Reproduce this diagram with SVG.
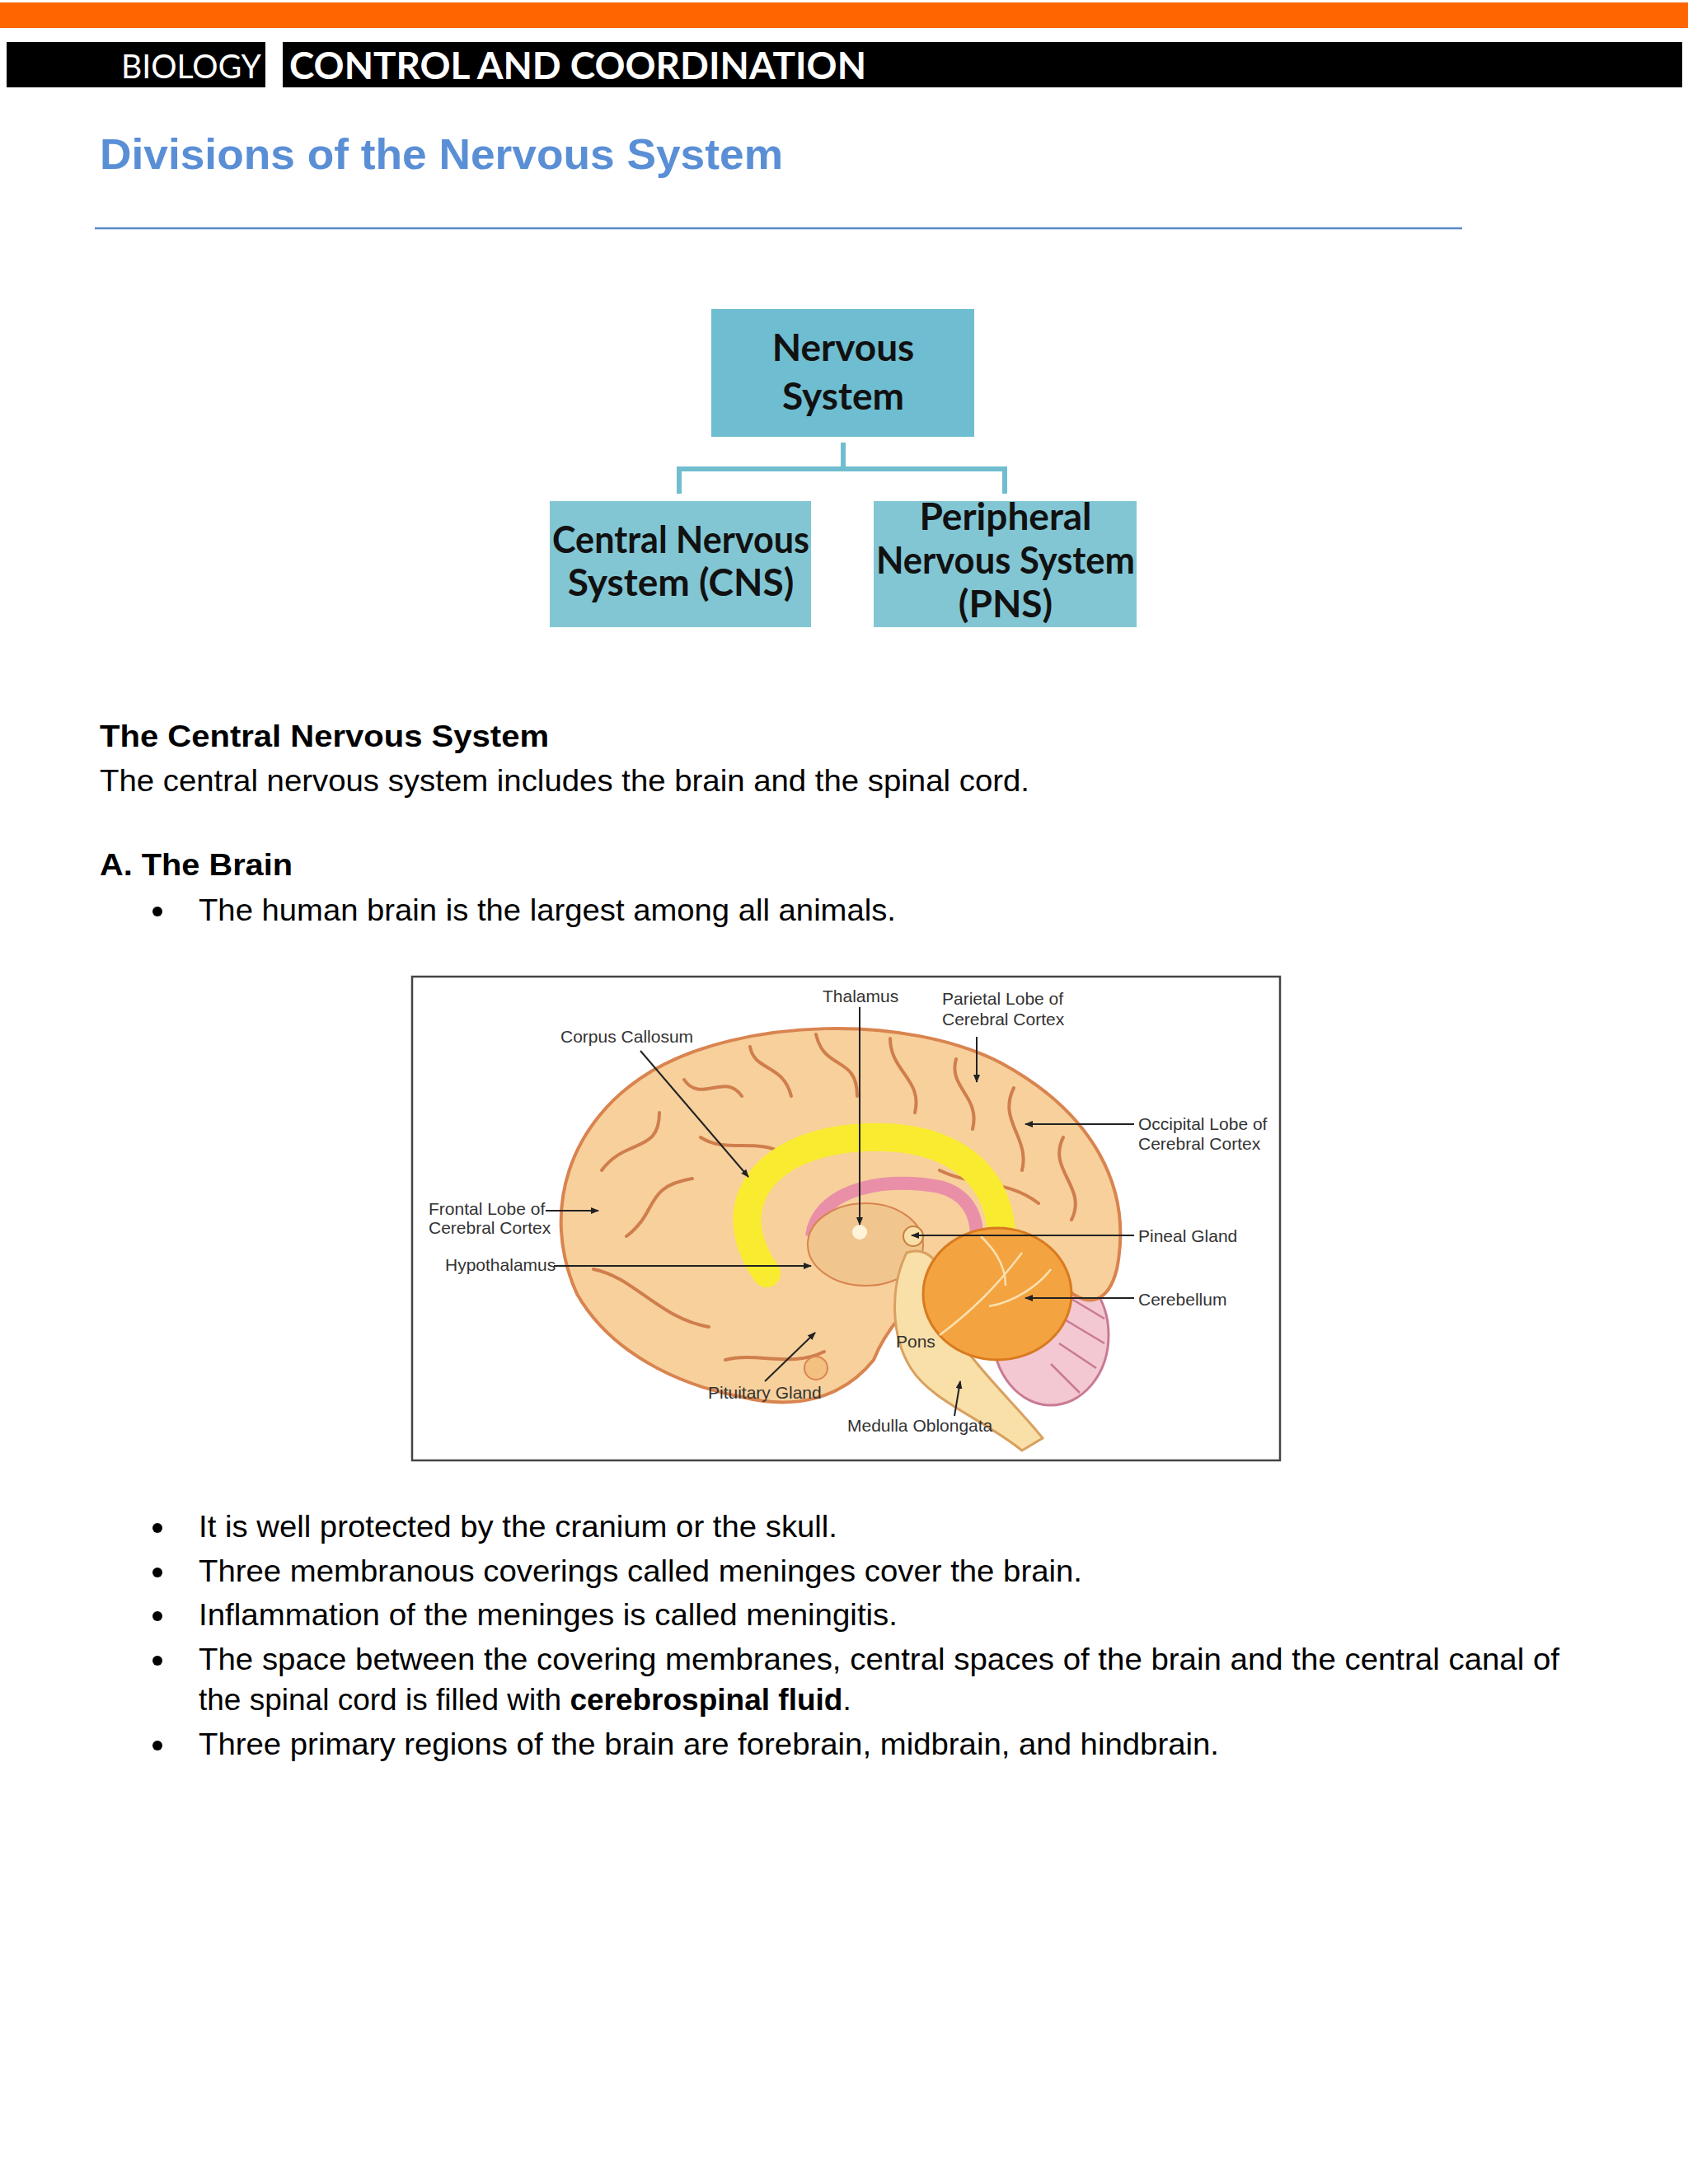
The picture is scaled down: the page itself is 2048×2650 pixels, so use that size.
<svg xmlns="http://www.w3.org/2000/svg" width="2048" height="2650" viewBox="0 0 2048 2650">
<style>
.hdr{font-family:Lato,"Open Sans",sans-serif;fill:#fff}
.box{font-family:Lato,"Open Sans",sans-serif;font-weight:bold;font-size:46px;fill:#111;text-anchor:middle}
.body{font-family:"Liberation Sans",Arial,sans-serif;font-size:37px;fill:#000}
.bold{font-weight:bold}
.lbl{font-family:"Liberation Sans",Arial,sans-serif;font-size:21px;fill:#333}
.ptr{stroke:#222;stroke-width:2;fill:none}
.gy{fill:none;stroke:#cf7e4c;stroke-width:4;stroke-linecap:round}
</style>
<defs>
<marker id="ah" markerWidth="10" markerHeight="8" refX="9" refY="4" orient="auto" markerUnits="userSpaceOnUse"><path d="M0,0 L10,4 L0,8 Z" fill="#222"/></marker>
</defs>
<rect width="2048" height="2650" fill="#fff"/>
<g id="header">
<rect x="0" y="3" width="2048" height="31" fill="#ff6600"/>
<rect x="8" y="51" width="314" height="55" fill="#000"/>
<rect x="343" y="51" width="1698" height="55" fill="#000"/>
<text class="hdr" x="147" y="95" font-size="40" textLength="170" lengthAdjust="spacingAndGlyphs">BIOLOGY</text>
<text class="hdr" x="351" y="96" font-size="46" font-weight="bold" textLength="700" lengthAdjust="spacingAndGlyphs">CONTROL AND COORDINATION</text>
</g>
<g id="title">
<text x="121" y="205" font-family="Liberation Sans,Arial,sans-serif" font-weight="bold" font-size="52" fill="#5a8fd6" textLength="829" lengthAdjust="spacingAndGlyphs">Divisions of the Nervous System</text>
<line x1="115" y1="277" x2="1774" y2="277" stroke="#5a88c8" stroke-width="2.5"/>
</g>
<g id="connectors" fill="none" stroke="#70bdd0" stroke-width="6">
<path d="M1023,537 V569 M824,599 V569 H1219 V599"/>
</g>
<g id="node-ns">
<rect x="863" y="375" width="319" height="155" fill="#6fbdd0"/>
<text class="box" x="1023" y="438" font-size="50">Nervous</text>
<text class="box" x="1023" y="497" font-size="50">System</text>
</g>
<g id="node-cns">
<rect x="667" y="608" width="317" height="153" fill="#82c6d4"/>
<text class="box" x="826" y="671" textLength="312" lengthAdjust="spacingAndGlyphs">Central Nervous</text>
<text class="box" x="826" y="723">System (CNS)</text>
</g>
<g id="node-pns">
<rect x="1060" y="608" width="319" height="153" fill="#82c6d4"/>
<text class="box" x="1220" y="643">Peripheral</text>
<text class="box" x="1220" y="696" textLength="314" lengthAdjust="spacingAndGlyphs">Nervous System</text>
<text class="box" x="1220" y="749">(PNS)</text>
</g>
<g id="text1">
<text class="body bold" x="121" y="906" textLength="545" lengthAdjust="spacingAndGlyphs">The Central Nervous System</text>
<text class="body" x="121" y="960" textLength="1128" lengthAdjust="spacingAndGlyphs">The central nervous system includes the brain and the spinal cord.</text>
<text class="body bold" x="121" y="1062" textLength="234" lengthAdjust="spacingAndGlyphs">A. The Brain</text>
<circle cx="191" cy="1106" r="6"/>
<text class="body" x="241" y="1117" textLength="846" lengthAdjust="spacingAndGlyphs">The human brain is the largest among all animals.</text>
</g>
<g id="brain-figure">
<rect x="500" y="1185" width="1053" height="587" fill="#fff" stroke="#444" stroke-width="2.5"/>
<ellipse cx="1275" cy="1620" rx="70" ry="85" fill="#f3c8d3" stroke="#c97a92" stroke-width="3"/>
<path d="M1280,1545 L1335,1575 M1290,1570 L1340,1600 M1290,1600 L1340,1630 M1285,1630 L1330,1660 M1275,1655 L1310,1690" stroke="#c97a92" stroke-width="2.5"/>
<path d="M700,1570 C655,1470 690,1360 790,1300 C900,1235 1100,1230 1215,1290 C1325,1350 1375,1440 1355,1540 C1345,1580 1320,1590 1290,1560 C1250,1520 1190,1510 1150,1540 C1120,1570 1080,1600 1060,1650 C1020,1700 960,1710 900,1695 C820,1680 740,1640 700,1570 Z" fill="#f7d09c" stroke="#d9844f" stroke-width="4"/>
<path class="gy" d="M730,1420 C760,1380 800,1400 800,1350 M760,1500 C800,1470 780,1440 840,1430 M830,1310 C850,1340 880,1300 900,1330 M910,1270 C915,1300 950,1290 960,1330 M990,1255 C1000,1300 1040,1280 1040,1330 M1080,1260 C1080,1300 1120,1310 1110,1350 M1160,1285 C1150,1320 1190,1330 1180,1370 M1230,1320 C1210,1360 1250,1380 1240,1420 M1290,1380 C1270,1420 1320,1440 1300,1480 M720,1540 C770,1550 800,1600 860,1610 M880,1650 C920,1640 960,1660 1000,1640 M850,1380 C880,1400 920,1380 950,1400 M1140,1420 C1180,1440 1220,1430 1260,1460"/>
<path d="M930,1545 C870,1460 930,1385 1050,1380 C1150,1376 1210,1420 1215,1495" fill="none" stroke="#f9ec30" stroke-width="34" stroke-linecap="round"/>
<path d="M985,1500 C990,1450 1060,1425 1140,1440 C1170,1448 1185,1470 1185,1500" fill="none" stroke="#e98fa8" stroke-width="16"/>
<ellipse cx="1050" cy="1510" rx="70" ry="50" fill="#f0c68e" stroke="#d9844f" stroke-width="2"/>
<circle cx="1043" cy="1495" r="9" fill="#fff3d8"/>
<path d="M1100,1520 C1130,1510 1150,1540 1140,1580 C1160,1640 1230,1700 1265,1745 L1240,1760 C1190,1720 1130,1700 1105,1660 C1080,1620 1080,1560 1100,1520 Z" fill="#f8e0a8" stroke="#d9a060" stroke-width="3"/>
<ellipse cx="1210" cy="1570" rx="90" ry="80" fill="#f3a33f" stroke="#d97a20" stroke-width="3"/>
<path d="M1140,1620 C1180,1590 1210,1560 1240,1520 M1200,1585 C1230,1580 1260,1560 1275,1540 M1220,1560 C1220,1530 1200,1510 1190,1500" stroke="#fbe0b0" stroke-width="2.5" fill="none"/>
<circle cx="1108" cy="1500" r="12" fill="#f8e0a8" stroke="#c98040" stroke-width="2"/>
<circle cx="990" cy="1660" r="14" fill="#f3c080" stroke="#d9844f" stroke-width="2"/>
<text class="lbl" x="998" y="1216">Thalamus</text>
<line class="ptr" x1="1043" y1="1222" x2="1043" y2="1486" marker-end="url(#ah)"/>
<text class="lbl" x="1143" y="1219">Parietal Lobe of</text>
<text class="lbl" x="1143" y="1244">Cerebral Cortex</text>
<line class="ptr" x1="1185" y1="1258" x2="1185" y2="1313" marker-end="url(#ah)"/>
<text class="lbl" x="680" y="1265">Corpus Callosum</text>
<line class="ptr" x1="777" y1="1275" x2="908" y2="1428" marker-end="url(#ah)"/>
<text class="lbl" x="1381" y="1371">Occipital Lobe of</text>
<text class="lbl" x="1381" y="1395">Cerebral  Cortex</text>
<line class="ptr" x1="1376" y1="1364" x2="1244" y2="1364" marker-end="url(#ah)"/>
<text class="lbl" x="520" y="1474">Frontal Lobe of</text>
<text class="lbl" x="520" y="1497">Cerebral Cortex</text>
<line class="ptr" x1="662" y1="1469" x2="726" y2="1469" marker-end="url(#ah)"/>
<text class="lbl" x="540" y="1542">Hypothalamus</text>
<line class="ptr" x1="672" y1="1536" x2="984" y2="1536" marker-end="url(#ah)"/>
<text class="lbl" x="1381" y="1507">Pineal Gland</text>
<line class="ptr" x1="1376" y1="1499" x2="1106" y2="1499" marker-end="url(#ah)"/>
<text class="lbl" x="1381" y="1584">Cerebellum</text>
<line class="ptr" x1="1376" y1="1575" x2="1244" y2="1575" marker-end="url(#ah)"/>
<text class="lbl" x="1087" y="1635">Pons</text>
<text class="lbl" x="859" y="1697">Pituitary Gland</text>
<line class="ptr" x1="928" y1="1676" x2="989" y2="1617" marker-end="url(#ah)"/>
<text class="lbl" x="1028" y="1737">Medulla Oblongata</text>
<line class="ptr" x1="1158" y1="1718" x2="1165" y2="1676" marker-end="url(#ah)"/>
</g>
<g id="bullets">
<circle cx="191" cy="1854" r="6"/>
<text class="body" x="241" y="1865" textLength="775" lengthAdjust="spacingAndGlyphs">It is well protected by the cranium or the skull.</text>
<circle cx="191" cy="1908" r="6"/>
<text class="body" x="241" y="1919" textLength="1072" lengthAdjust="spacingAndGlyphs">Three membranous coverings called meninges cover the brain.</text>
<circle cx="191" cy="1961" r="6"/>
<text class="body" x="241" y="1972" textLength="848" lengthAdjust="spacingAndGlyphs">Inflammation of the meninges is called meningitis.</text>
<circle cx="191" cy="2015" r="6"/>
<text class="body" x="241" y="2026" textLength="1651" lengthAdjust="spacingAndGlyphs">The space between the covering membranes, central spaces of the brain and the central canal of</text>
<text class="body" x="241" y="2075">the spinal cord is filled with <tspan class="bold">cerebrospinal fluid</tspan>.</text>
<circle cx="191" cy="2118" r="6"/>
<text class="body" x="241" y="2129" textLength="1238" lengthAdjust="spacingAndGlyphs">Three primary regions of the brain are forebrain, midbrain, and hindbrain.</text>
</g>
</svg>
